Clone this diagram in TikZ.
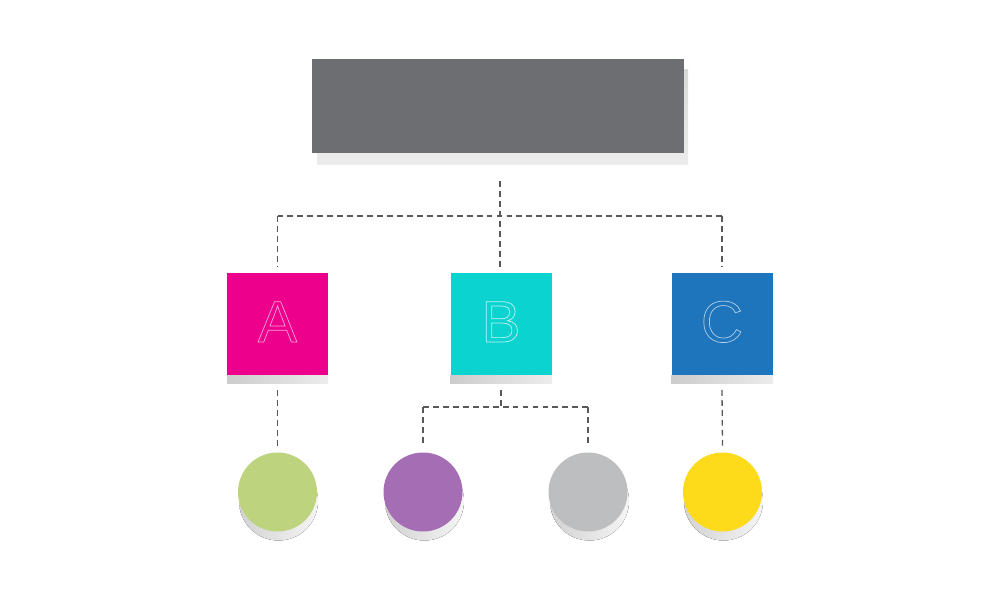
\documentclass[tikz,border=0pt]{standalone}
\usepackage{fontspec}
\setmainfont{Liberation Sans}
\usetikzlibrary{calc}
\definecolor{topgray}{HTML}{6D6E71}
\definecolor{cpink}{HTML}{EC008C}
\definecolor{ccyan}{HTML}{0BD3D0}
\definecolor{cblue}{HTML}{1F75BB}
\definecolor{cgreen}{HTML}{BDD37E}
\definecolor{cpurple}{HTML}{A46DB4}
\definecolor{cgray}{HTML}{BCBEC0}
\definecolor{cyellow}{HTML}{FDDB1A}
\definecolor{dashcol}{HTML}{58595B}
\newcommand\hollowtext[1]{\special{pdf:literal direct 1 Tr 0.6 w}#1\special{pdf:literal direct 0 Tr}}
\tikzset{
  sqbox/.style={rectangle, inner sep=0pt, minimum width=101*0.3mm, minimum height=102*0.3mm, fill=#1},
  sqshadow/.style={left color=gray!40, right color=gray!15, draw=none},
  circ/.style={circle, inner sep=0pt, minimum size=79*0.3mm, fill=#1},
  circshadow/.style={left color=gray!35, right color=gray!8, draw=none},
  letter/.style={anchor=base, inner sep=0pt, font=\fontsize{50pt}{50pt}\selectfont, text=#1},
  conn/.style={dashcol, line width=1.1pt, dash pattern=on 5pt off 3.5pt},
}
\begin{document}
\begin{tikzpicture}[x=0.3mm,y=-0.3mm]
\useasboundingbox[fill=white] (0,0) rectangle (1000,600);
% top rectangle with shadow
\fill[top color=gray!30, bottom color=gray!15] (317,70) rectangle (688,165);
\node[rectangle, inner sep=0pt, fill=topgray, minimum width=372*0.3mm, minimum height=94*0.3mm] (top) at (498,106) {};
% squares with shadows
\fill[sqshadow] (227,375) rectangle (328,383);
\fill[sqshadow] (450,375) rectangle (552,383);
\fill[sqshadow] (671,375) rectangle (773,383);
\node[sqbox=cpink] (A) at (277.5,324) {};
\node[sqbox=ccyan] (B) at (501,324) {};
\node[sqbox=cblue] (C) at (722,324) {};
\node[letter=cpink!35!white] (lA) at (277.5,342) {\hollowtext{A}};
\node[letter=ccyan!25!white] (lB) at (501,342) {\hollowtext{B}};
\node[letter=cblue!35!white] (lC) at (722,342) {\hollowtext{C}};
% circles with shadows
\fill[circshadow] (278.5,501) circle (39.5);
\fill[circshadow] (424.5,501) circle (39.5);
\fill[circshadow] (589.5,501) circle (39.5);
\fill[circshadow] (723.5,501) circle (39.5);
\node[circ=cgreen] (c1) at (277.5,492) {};
\node[circ=cpurple] (c2) at (423,492) {};
\node[circ=cgray] (c3) at (588,492) {};
\node[circ=cyellow] (c4) at (722.5,492) {};
% connector coordinates
\coordinate (tstart) at (500,181);
\coordinate (jA) at (277.5,216);
\coordinate (jC) at (722,216);
\coordinate (aA) at (277.5,267);
\coordinate (aB) at (500,267);
\coordinate (aC) at (722,267);
\coordinate (bA) at (277.5,390);
\coordinate (bB) at (501,390);
\coordinate (bC) at (722,390);
\coordinate (bj) at (501,407);
\coordinate (bj2) at (423,407);
\coordinate (bj3) at (588,407);
% connectors
\draw[conn] (tstart) -- (aB);
\draw[conn] (jA) -- (jC);
\draw[conn] (jA) -- (aA);
\draw[conn] (jC) -- (aC);
\draw[conn] (bA) -- ($(c1.north)+(0,-6)$);
\draw[conn] (bB) -- (bj);
\draw[conn] (bj2) -- (bj3);
\draw[conn] (bj2) -- ($(c2.north)+(0,-6)$);
\draw[conn] (bj3) -- ($(c3.north)+(0,-6)$);
\draw[conn] (bC) -- ($(c4.north)+(0,-6)$);
\end{tikzpicture}
\end{document}
